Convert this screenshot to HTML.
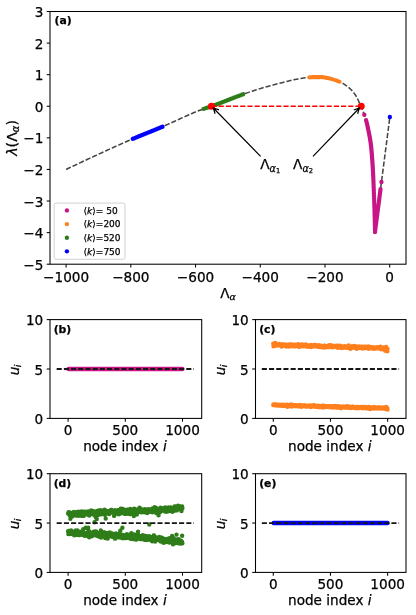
<!DOCTYPE html>
<html><head><meta charset="utf-8"><title>figure</title>
<style>html,body{margin:0;padding:0;background:#fff}svg{display:block}</style></head>
<body>
<svg width="416" height="615" viewBox="0 0 416 615" font-family="'DejaVu Sans','Liberation Sans',sans-serif"><style>text{stroke:#000;stroke-width:0.25px}</style>
<rect width="416" height="615" fill="#fff"/>
<path d="M66.1 169.44 L67.53 168.75 L68.96 168.07 L70.39 167.39 L71.82 166.71 L73.25 166.04 L74.69 165.36 L76.12 164.68 L77.55 164.01 L78.98 163.33 L80.41 162.66 L81.84 161.99 L83.27 161.32 L84.7 160.65 L86.13 159.98 L87.56 159.32 L89 158.65 L90.43 157.98 L91.86 157.32 L93.29 156.66 L94.72 156 L96.15 155.34 L97.58 154.68 L99.01 154.02 L100.44 153.36 L101.87 152.71 L103.31 152.05 L104.74 151.39 L106.17 150.73 L107.6 150.08 L109.03 149.42 L110.46 148.77 L111.89 148.11 L113.32 147.46 L114.75 146.81 L116.18 146.16 L117.62 145.51 L119.05 144.87 L120.48 144.23 L121.91 143.59 L123.34 142.95 L124.77 142.31 L126.2 141.68 L127.63 141.06 L129.06 140.43 L130.49 139.81 L131.93 139.19 L133.36 138.58 L134.79 137.98 L136.22 137.38 L137.65 136.78 L139.08 136.19 L140.51 135.61 L141.94 135.02 L143.37 134.44 L144.8 133.86 L146.24 133.29 L147.67 132.71 L149.1 132.13 L150.53 131.56 L151.96 130.98 L153.39 130.4 L154.82 129.82 L156.25 129.24 L157.68 128.65 L159.11 128.06 L160.55 127.47 L161.98 126.87 L163.41 126.27 L164.84 125.65 L166.27 125.03 L167.7 124.4 L169.13 123.76 L170.56 123.12 L171.99 122.47 L173.42 121.82 L174.86 121.17 L176.29 120.51 L177.72 119.86 L179.15 119.2 L180.58 118.55 L182.01 117.89 L183.44 117.24 L184.87 116.59 L186.3 115.95 L187.73 115.31 L189.17 114.68 L190.6 114.05 L192.03 113.43 L193.46 112.83 L194.89 112.23 L196.32 111.64 L197.75 111.06 L199.18 110.5 L200.61 109.95 L202.04 109.41 L203.48 108.9 L204.91 108.41 L206.34 107.94 L207.77 107.48 L209.2 107.01 L210.63 106.53 L212.06 106.03 L213.49 105.51 L214.92 104.99 L216.35 104.46 L217.79 103.92 L219.22 103.38 L220.65 102.83 L222.08 102.28 L223.51 101.72 L224.94 101.16 L226.37 100.6 L227.8 100.04 L229.23 99.48 L230.66 98.92 L232.1 98.36 L233.53 97.81 L234.96 97.26 L236.39 96.72 L237.82 96.18 L239.25 95.65 L240.68 95.13 L242.11 94.61 L243.54 94.11 L244.97 93.61 L246.41 93.11 L247.84 92.61 L249.27 92.12 L250.7 91.64 L252.13 91.16 L253.56 90.68 L254.99 90.22 L256.42 89.76 L257.85 89.31 L259.28 88.87 L260.72 88.44 L262.15 88.01 L263.58 87.6 L265.01 87.19 L266.44 86.79 L267.87 86.39 L269.3 86 L270.73 85.61 L272.16 85.23 L273.59 84.85 L275.03 84.48 L276.46 84.11 L277.89 83.74 L279.32 83.38 L280.75 83.01 L282.18 82.64 L283.61 82.28 L285.04 81.91 L286.47 81.54 L287.9 81.18 L289.34 80.83 L290.77 80.49 L292.2 80.17 L293.63 79.86 L295.06 79.57 L296.49 79.29 L297.92 79.02 L299.35 78.74 L300.78 78.46 L302.21 78.2 L303.65 77.96 L305.08 77.75 L306.51 77.58 L307.94 77.45 L309.37 77.36 L310.8 77.29 L312.23 77.23 L313.66 77.17 L315.09 77.13 L316.52 77.09 L317.96 77.06 L319.39 77.05 L320.82 77.06 L322.25 77.16 L323.68 77.33 L325.11 77.56 L326.54 77.83 L327.97 78.1 L329.4 78.39 L330.83 78.73 L332.27 79.12 L333.7 79.56 L335.13 80.05 L336.56 80.57 L337.99 81.13 L339.42 81.73 L340.85 82.37 L342.28 83.09 L343.71 83.91 L345.14 84.82 L346.58 85.83 L348.01 86.92 L349.44 88.1 L350.87 89.44 L350.87 89.44 L351.03 89.6 L351.19 89.77 L351.35 89.94 L351.52 90.11 L351.68 90.28 L351.84 90.46 L352 90.64 L352.16 90.82 L352.32 91.01 L352.49 91.19 L352.65 91.38 L352.81 91.58 L352.97 91.77 L353.13 91.97 L353.29 92.17 L353.46 92.38 L353.62 92.58 L353.78 92.79 L353.94 93 L354.1 93.22 L354.27 93.44 L354.43 93.66 L354.59 93.88 L354.75 94.11 L354.91 94.34 L355.07 94.57 L355.24 94.8 L355.4 95.04 L355.56 95.28 L355.72 95.52 L355.88 95.77 L356.05 96.03 L356.21 96.3 L356.37 96.57 L356.53 96.85 L356.69 97.15 L356.85 97.44 L357.02 97.75 L357.18 98.06 L357.34 98.38 L357.5 98.7 L357.66 99.03 L357.83 99.36 L357.99 99.7 L358.15 100.04 L358.31 100.39 L358.47 100.74 L358.63 101.1 L358.8 101.46 L358.96 101.82 L359.12 102.18 L359.28 102.55 L359.44 102.92 L359.61 103.29 L359.77 103.66 L359.93 104.03 L360.09 104.4 L360.25 104.78 L360.41 105.15 L360.58 105.52 L360.74 105.89 L360.9 106.26 L361.06 106.63 L361.22 107.01 L361.38 107.39 L361.55 107.77 L361.71 108.15 L361.87 108.54 L362.03 108.93 L362.19 109.32 L362.36 109.72 L362.52 110.12 L362.68 110.53 L362.84 110.93 L363 111.35 L363.16 111.76 L363.33 112.18 L363.49 112.61 L363.65 113.04 L363.81 113.47 L363.97 113.9 L364.14 114.35 L364.3 114.79 L364.46 115.24 L364.62 115.69 L364.78 116.14 L364.94 116.6 L365.11 117.07 L365.27 117.55 L365.43 118.04 L365.59 118.54 L365.75 119.06 L365.92 119.6 L366.08 120.16 L366.24 120.74 L366.4 121.35 L366.56 121.97 L366.72 122.61 L366.89 123.27 L367.05 123.95 L367.21 124.65 L367.37 125.37 L367.53 126.1 L367.7 126.84 L367.86 127.6 L368.02 128.37 L368.18 129.16 L368.34 129.95 L368.5 130.75 L368.67 131.55 L368.83 132.34 L368.99 133.14 L369.15 133.95 L369.31 134.78 L369.47 135.63 L369.64 136.51 L369.8 137.42 L369.96 138.37 L370.12 139.35 L370.28 140.39 L370.45 141.48 L370.61 142.63 L370.77 143.84 L370.93 145.12 L371.09 146.49 L371.25 147.98 L371.42 149.59 L371.58 151.32 L371.74 153.17 L371.9 155.14 L372.06 157.23 L372.23 159.43 L372.39 161.76 L372.55 164.2 L372.71 166.76 L372.87 169.44 L373.03 172.35 L373.2 175.61 L373.36 179.19 L373.52 183.06 L373.68 187.21 L373.84 191.6 L374.01 196.21 L374.17 201.02 L374.33 206.26 L374.49 212.07 L374.65 218.36 L374.81 225.03 L374.98 231.98 L374.98 231.98 L375.36 229.03 L375.74 226.08 L376.12 223.14 L376.5 220.19 L376.88 217.24 L377.27 214.29 L377.65 211.34 L378.03 208.4 L378.41 205.45 L378.79 202.5 L379.17 199.55 L379.56 196.6 L379.94 193.65 L380.32 190.71 L380.7 187.76 L381.08 184.81 L381.46 181.86 L381.85 178.91 L382.23 175.97 L382.61 173.02 L382.99 170.07 L383.37 167.12 L383.75 164.17 L384.14 161.22 L384.52 158.28 L384.9 155.33 L385.28 152.38 L385.66 149.43 L386.04 146.48 L386.43 143.54 L386.81 140.59 L387.19 137.64 L387.57 134.69 L387.95 131.74 L388.34 128.79 L388.72 125.85 L389.1 122.9 L389.48 119.95 L389.86 117" fill="none" stroke="#454545" stroke-width="1.55" stroke-dasharray="5.2 2.0"/>
<path d="M132.76 138.84h0M133.52 138.51h0M134.29 138.19h0M135.05 137.87h0M135.82 137.55h0M136.58 137.23h0M137.34 136.91h0M138.11 136.59h0M138.87 136.28h0M139.63 135.97h0M140.4 135.65h0M141.16 135.34h0M141.92 135.03h0M142.69 134.72h0M143.45 134.41h0M144.21 134.1h0M144.98 133.79h0M145.74 133.49h0M146.5 133.18h0M147.27 132.87h0M148.03 132.56h0M148.79 132.26h0M149.56 131.95h0M150.32 131.64h0M151.08 131.34h0M151.85 131.03h0M152.61 130.72h0M153.37 130.41h0M154.14 130.1h0M154.9 129.79h0M155.66 129.48h0M156.43 129.17h0M157.19 128.86h0M157.95 128.54h0M158.72 128.23h0M159.48 127.91h0M160.24 127.6h0M161.01 127.28h0M161.77 126.96h0M162.53 126.64h0" stroke="#0000ff" stroke-width="4.35" stroke-linecap="round" fill="none"/>
<path d="M203.63 108.84h0M204.44 108.57h0M205.24 108.3h0M206.05 108.03h0M206.85 107.77h0M207.66 107.51h0M208.46 107.25h0M209.27 106.99h0M210.08 106.72h0M210.88 106.44h0M211.69 106.16h0M212.49 105.87h0M213.3 105.58h0M214.1 105.29h0M214.91 105h0M215.72 104.7h0M216.52 104.4h0M217.33 104.09h0M218.13 103.79h0M218.94 103.48h0M219.74 103.18h0M220.55 102.87h0M221.36 102.56h0M222.16 102.24h0M222.97 101.93h0M223.77 101.62h0M224.58 101.3h0M225.38 100.99h0M226.19 100.67h0M227 100.36h0M227.8 100.04h0M228.61 99.72h0M229.41 99.41h0M230.22 99.09h0M231.02 98.78h0M231.83 98.47h0M232.64 98.16h0M233.44 97.84h0M234.25 97.53h0M235.05 97.23h0M235.86 96.92h0M236.66 96.61h0M237.47 96.31h0M238.28 96.01h0M239.08 95.71h0M239.89 95.42h0M240.69 95.12h0M241.5 94.83h0M242.3 94.54h0M243.11 94.26h0" stroke="#2e7d19" stroke-width="4.35" stroke-linecap="round" fill="none"/>
<path d="M309.45 77.36h0M310.22 77.32h0M310.99 77.29h0M311.76 77.25h0M312.53 77.22h0M313.31 77.19h0M314.08 77.16h0M314.85 77.13h0M315.62 77.11h0M316.39 77.09h0M317.16 77.07h0M317.94 77.06h0M318.71 77.05h0M319.48 77.05h0M320.25 77.04h0M321.02 77.07h0M321.79 77.11h0M322.57 77.19h0M323.34 77.28h0M324.11 77.4h0M324.88 77.52h0M325.65 77.66h0M326.42 77.81h0M327.2 77.95h0M327.97 78.1h0M328.74 78.25h0M329.51 78.42h0M330.28 78.59h0M331.05 78.79h0M331.83 79h0M332.6 79.22h0M333.37 79.46h0M334.14 79.71h0M334.91 79.97h0M335.68 80.24h0M336.46 80.53h0M337.23 80.83h0M338 81.14h0M338.77 81.46h0M339.54 81.78h0" stroke="#ff7f1c" stroke-width="4.15" stroke-linecap="round" fill="none"/>
<path d="M366.08 120.16h0M366.13 120.36h0M366.19 120.56h0M366.25 120.77h0M366.3 120.97h0M366.36 121.18h0M366.41 121.39h0M366.47 121.61h0M366.52 121.82h0M366.58 122.04h0M366.64 122.26h0M366.69 122.49h0M366.75 122.71h0M366.8 122.94h0M366.86 123.17h0M366.92 123.4h0M366.97 123.64h0M367.03 123.87h0M367.08 124.11h0M367.14 124.35h0M367.2 124.59h0M367.25 124.84h0M367.31 125.09h0M367.36 125.33h0M367.42 125.59h0M367.48 125.84h0M367.53 126.09h0M367.59 126.35h0M367.64 126.61h0M367.7 126.86h0M367.76 127.13h0M367.81 127.39h0M367.87 127.65h0M367.92 127.92h0M367.98 128.19h0M368.04 128.46h0M368.09 128.73h0M368.15 129h0M368.2 129.27h0M368.26 129.55h0M368.32 129.82h0M368.37 130.1h0M368.43 130.38h0M368.48 130.65h0M368.54 130.93h0M368.6 131.2h0M368.65 131.48h0M368.71 131.75h0M368.76 132.02h0M368.82 132.3h0M368.88 132.58h0M368.93 132.85h0M368.99 133.13h0M369.04 133.41h0M369.1 133.69h0M369.16 133.97h0M369.21 134.26h0M369.27 134.55h0M369.32 134.84h0M369.38 135.13h0M369.44 135.42h0M369.49 135.72h0M369.55 136.02h0M369.6 136.33h0M369.66 136.63h0M369.72 136.95h0M369.77 137.26h0M369.83 137.58h0M369.88 137.91h0M369.94 138.24h0M369.99 138.57h0M370.05 138.91h0M370.11 139.26h0M370.16 139.61h0M370.22 139.97h0M370.27 140.33h0M370.33 140.7h0M370.39 141.08h0M370.44 141.46h0M370.5 141.85h0M370.55 142.25h0M370.61 142.65h0M370.67 143.06h0M370.72 143.48h0M370.78 143.91h0M370.83 144.34h0M370.89 144.79h0M370.95 145.24h0M371 145.71h0M371.06 146.19h0M371.11 146.68h0M371.17 147.19h0M371.23 147.71h0M371.28 148.25h0M371.34 148.8h0M371.39 149.36h0M371.45 149.94h0M371.51 150.54h0M371.56 151.14h0M371.62 151.77h0M371.67 152.4h0M371.73 153.05h0M371.79 153.72h0M371.84 154.4h0M371.9 155.09h0M371.95 155.8h0M372.01 156.52h0M372.07 157.26h0M372.12 158.01h0M372.18 158.77h0M372.23 159.55h0M372.29 160.34h0M372.35 161.15h0M372.4 161.97h0M372.46 162.8h0M372.51 163.65h0M372.57 164.51h0M372.63 165.39h0M372.68 166.28h0M372.74 167.19h0M372.79 168.11h0M372.85 169.04h0M372.91 170h0M372.96 170.99h0M373.02 172.03h0M373.07 173.1h0M373.13 174.22h0M373.19 175.38h0M373.24 176.57h0M373.3 177.8h0M373.35 179.07h0M373.41 180.38h0M373.47 181.72h0M373.52 183.09h0M373.58 184.49h0M373.63 185.93h0M373.69 187.4h0M373.74 188.89h0M373.8 190.42h0M373.86 191.97h0M373.91 193.54h0M373.97 195.15h0M374.02 196.78h0M374.08 198.43h0M374.14 200.1h0M374.19 201.8h0M374.25 203.58h0M374.3 205.43h0M374.36 207.35h0M374.42 209.33h0M374.47 211.38h0M374.53 213.49h0M374.58 215.66h0M374.64 217.87h0M374.7 220.13h0M374.75 222.43h0M374.81 224.77h0M374.86 227.15h0M374.92 229.55h0M374.98 231.98h0M374.98 231.98h0M375.12 230.88h0M375.26 229.79h0M375.4 228.69h0M375.54 227.6h0M375.69 226.5h0M375.83 225.41h0M375.97 224.31h0M376.11 223.21h0M376.25 222.12h0M376.4 221.02h0M376.54 219.93h0M376.68 218.83h0M376.82 217.73h0M376.96 216.64h0M377.1 215.54h0M377.25 214.45h0M377.39 213.35h0M377.53 212.25h0M377.67 211.16h0M377.81 210.06h0M377.96 208.97h0M378.1 207.87h0M378.24 206.77h0M378.38 205.68h0M378.52 204.58h0M378.67 203.49h0M378.81 202.39h0M378.95 201.29h0M379.09 200.2h0M379.23 199.1h0M379.37 198.01h0M379.52 196.91h0M379.66 195.81h0M379.8 194.72h0M379.94 193.62h0M380.08 192.53h0M380.23 191.43h0M380.37 190.33h0M380.51 189.24h0" stroke="#c71585" stroke-width="4.35" stroke-linecap="round" fill="none"/>
<path d="M364.3 114.79h0M381.45 181.99h0" stroke="#c71585" stroke-width="4.35" stroke-linecap="round" fill="none"/>
<path d="M389.86 117h0" stroke="#0000ff" stroke-width="4.35" stroke-linecap="round" fill="none"/>
<path d="M211.4 106.26H360.9" stroke="#f00" stroke-width="1.6" stroke-dasharray="5.2 2.0" fill="none"/>
<path d="M211.4 106.26h0M361.22 106.26h0" stroke="#f00" stroke-width="7" stroke-linecap="round" fill="none"/>
<path d="M260.6 156.3L213.3 108M218.99 109.91L213.3 108L215.09 113.73" stroke="#000" stroke-width="1.2" fill="none" stroke-linejoin="miter"/>
<path d="M313 156.3L359.4 108M357.66 113.74L359.4 108L353.73 109.97" stroke="#000" stroke-width="1.2" fill="none" stroke-linejoin="miter"/>
<text x="260.2" y="169.2" font-size="13.7">Λ<tspan font-size="9.59" font-style="oblique" dy="2.47">α</tspan><tspan font-size="6.71" dy="1.23">1</tspan></text>
<text x="293" y="169.2" font-size="13.7">Λ<tspan font-size="9.59" font-style="oblique" dy="2.47">α</tspan><tspan font-size="6.71" dy="1.23">2</tspan></text>
<rect x="50" y="11.5" width="356" height="252.7" fill="none" stroke="#000" stroke-width="1.05"/>
<path d="M50 264.2h-3.3" stroke="#000" stroke-width="1.05"/>
<text x="43.4" y="269.8" font-size="13.6" text-anchor="end">−5</text>
<path d="M50 232.61h-3.3" stroke="#000" stroke-width="1.05"/>
<text x="43.4" y="238.21" font-size="13.6" text-anchor="end">−4</text>
<path d="M50 201.02h-3.3" stroke="#000" stroke-width="1.05"/>
<text x="43.4" y="206.62" font-size="13.6" text-anchor="end">−3</text>
<path d="M50 169.44h-3.3" stroke="#000" stroke-width="1.05"/>
<text x="43.4" y="175.04" font-size="13.6" text-anchor="end">−2</text>
<path d="M50 137.85h-3.3" stroke="#000" stroke-width="1.05"/>
<text x="43.4" y="143.45" font-size="13.6" text-anchor="end">−1</text>
<path d="M50 106.26h-3.3" stroke="#000" stroke-width="1.05"/>
<text x="43.4" y="111.86" font-size="13.6" text-anchor="end">0</text>
<path d="M50 74.67h-3.3" stroke="#000" stroke-width="1.05"/>
<text x="43.4" y="80.27" font-size="13.6" text-anchor="end">1</text>
<path d="M50 43.09h-3.3" stroke="#000" stroke-width="1.05"/>
<text x="43.4" y="48.69" font-size="13.6" text-anchor="end">2</text>
<path d="M50 11.5h-3.3" stroke="#000" stroke-width="1.05"/>
<text x="43.4" y="17.1" font-size="13.6" text-anchor="end">3</text>
<path d="M66.1 264.2v3.3" stroke="#000" stroke-width="1.05"/>
<text x="66.1" y="281.5" font-size="13.6" text-anchor="middle">−1000</text>
<path d="M130.82 264.2v3.3" stroke="#000" stroke-width="1.05"/>
<text x="130.82" y="281.5" font-size="13.6" text-anchor="middle">−800</text>
<path d="M195.54 264.2v3.3" stroke="#000" stroke-width="1.05"/>
<text x="195.54" y="281.5" font-size="13.6" text-anchor="middle">−600</text>
<path d="M260.26 264.2v3.3" stroke="#000" stroke-width="1.05"/>
<text x="260.26" y="281.5" font-size="13.6" text-anchor="middle">−400</text>
<path d="M324.98 264.2v3.3" stroke="#000" stroke-width="1.05"/>
<text x="324.98" y="281.5" font-size="13.6" text-anchor="middle">−200</text>
<path d="M389.7 264.2v3.3" stroke="#000" stroke-width="1.05"/>
<text x="389.7" y="281.5" font-size="13.6" text-anchor="middle">0</text>
<text x="220.2" y="298" font-size="13.6">Λ<tspan font-size="9.52" font-style="oblique" dy="2.18">α</tspan></text>
<text transform="translate(17.1,155.8) rotate(-90)" font-size="14.2"><tspan font-style="oblique">λ</tspan>(Λ<tspan font-size="9.94" font-style="oblique" dy="2.27">α</tspan><tspan dy="-2.27">)</tspan></text>
<text x="54.5" y="24.4" font-size="10.8" font-weight="bold">(a)</text>
<rect x="54.2" y="203.1" width="70.8" height="56.2" rx="2" ry="2" fill="#fff" fill-opacity="0.8" stroke="#ccc" stroke-width="0.9"/>
<path d="M66.9 210.4h0" stroke="#c71585" stroke-width="4.35" stroke-linecap="round" fill="none"/>
<text x="83.6" y="213.6" font-size="9.0">⟨<tspan font-style="oblique">k</tspan>⟩= 50</text>
<path d="M66.9 224.05h0" stroke="#ff7f1c" stroke-width="4.35" stroke-linecap="round" fill="none"/>
<text x="83.6" y="227.25" font-size="9.0">⟨<tspan font-style="oblique">k</tspan>⟩=200</text>
<path d="M66.9 237.7h0" stroke="#2e7d19" stroke-width="4.35" stroke-linecap="round" fill="none"/>
<text x="83.6" y="240.9" font-size="9.0">⟨<tspan font-style="oblique">k</tspan>⟩=520</text>
<path d="M66.9 251.35h0" stroke="#0000ff" stroke-width="4.35" stroke-linecap="round" fill="none"/>
<text x="83.6" y="254.55" font-size="9.0">⟨<tspan font-style="oblique">k</tspan>⟩=750</text>
<path d="M68.5 369H182.39" stroke="#c71585" stroke-width="4.4" stroke-linecap="round" fill="none"/>
<path d="M56.66 369H193.94" stroke="#161616" stroke-width="1.85" stroke-dasharray="5.1 2.1" fill="none"/>
<rect x="50" y="319.6" width="151.7" height="98.8" fill="none" stroke="#000" stroke-width="1.05"/>
<path d="M50 418.4h-3.3" stroke="#000" stroke-width="1.05"/>
<text x="43.2" y="424" font-size="13.6" text-anchor="end">0</text>
<path d="M50 369h-3.3" stroke="#000" stroke-width="1.05"/>
<text x="43.2" y="374.6" font-size="13.6" text-anchor="end">5</text>
<path d="M50 319.6h-3.3" stroke="#000" stroke-width="1.05"/>
<text x="43.2" y="325.2" font-size="13.6" text-anchor="end">10</text>
<path d="M68.1 418.4v3.3" stroke="#000" stroke-width="1.05"/>
<text x="68.1" y="435.4" font-size="13.6" text-anchor="middle">0</text>
<path d="M125.3 418.4v3.3" stroke="#000" stroke-width="1.05"/>
<text x="125.3" y="435.4" font-size="13.6" text-anchor="middle">500</text>
<path d="M182.5 418.4v3.3" stroke="#000" stroke-width="1.05"/>
<text x="182.5" y="435.4" font-size="13.6" text-anchor="middle">1000</text>
<text x="124.95" y="451.1" font-size="13.6" text-anchor="middle">node index <tspan font-style="oblique">i</tspan></text>
<text transform="translate(19.4,375.2) rotate(-90)" font-size="13.6"><tspan font-style="oblique">u</tspan><tspan font-size="9.52" font-style="oblique" dx="-0.6" dy="1.84">i</tspan></text>
<text x="53.7" y="332.6" font-size="10.8" font-weight="bold">(b)</text>
<path d="M273.25 343.68h0M273.48 346.19h0M273.71 344.58h0M273.94 345.12h0M274.17 345.07h0M274.4 344.95h0M274.62 345.93h0M274.85 344.97h0M275.08 345.32h0M275.31 343.05h0M275.54 344.74h0M275.77 345.06h0M276 345.03h0M276.23 345.25h0M276.46 345.46h0M276.69 345.11h0M276.91 344.64h0M277.14 345.04h0M277.37 344.4h0M277.6 345.03h0M277.83 344.92h0M278.06 344.1h0M278.29 344.65h0M278.52 345.23h0M278.75 345.06h0M278.98 344.67h0M279.2 343.92h0M279.43 345.13h0M279.66 345.12h0M279.89 344.45h0M280.12 345.48h0M280.35 345.17h0M280.58 344.54h0M280.81 344.71h0M281.04 344.98h0M281.27 344.67h0M281.5 346.58h0M281.72 344.5h0M281.95 345.58h0M282.18 345.97h0M282.41 344.92h0M282.64 344.7h0M282.87 345.33h0M283.1 345.68h0M283.33 345.08h0M283.56 345.13h0M283.79 344.35h0M284.01 344.71h0M284.24 345.02h0M284.47 344.53h0M284.7 345.25h0M284.93 345.65h0M285.16 344.84h0M285.39 344.84h0M285.62 345.28h0M285.85 345.6h0M286.08 345.06h0M286.3 346.54h0M286.53 344.82h0M286.76 344.94h0M286.99 346.1h0M287.22 345.18h0M287.45 345.75h0M287.68 344.82h0M287.91 346.34h0M288.14 345.74h0M288.37 344.87h0M288.59 344.63h0M288.82 346.44h0M289.05 345.54h0M289.28 345.1h0M289.51 345.62h0M289.74 344.43h0M289.97 345.95h0M290.2 345.11h0M290.43 345.88h0M290.66 344.56h0M290.89 345.34h0M291.11 345.54h0M291.34 346.27h0M291.57 344.43h0M291.8 344.95h0M292.03 344.95h0M292.26 344.75h0M292.49 345.19h0M292.72 345.73h0M292.95 345.82h0M293.18 345.83h0M293.4 344.66h0M293.63 346.2h0M293.86 345.74h0M294.09 345.6h0M294.32 345.31h0M294.55 345.13h0M294.78 346.12h0M295.01 346.39h0M295.24 345.46h0M295.47 344.81h0M295.69 345.06h0M295.92 345.36h0M296.15 345.66h0M296.38 345.33h0M296.61 345.63h0M296.84 345.06h0M297.07 345.95h0M297.3 345.45h0M297.53 345.59h0M297.76 345.24h0M297.99 345.42h0M298.21 344.16h0M298.44 344.74h0M298.67 344.75h0M298.9 346.68h0M299.13 345.76h0M299.36 345.91h0M299.59 345.3h0M299.82 346.84h0M300.05 344.97h0M300.28 345.03h0M300.5 346.33h0M300.73 346.16h0M300.96 346.07h0M301.19 345.62h0M301.42 345.3h0M301.65 344.54h0M301.88 345.77h0M302.11 345.25h0M302.34 345.59h0M302.57 344.72h0M302.79 345.28h0M303.02 344.95h0M303.25 346.29h0M303.48 345.81h0M303.71 346.16h0M303.94 344.9h0M304.17 345.37h0M304.4 345.9h0M304.63 345.99h0M304.86 345.49h0M305.09 346.14h0M305.31 346.27h0M305.54 345.51h0M305.77 344.44h0M306 345.92h0M306.23 346.09h0M306.46 346.43h0M306.69 346.53h0M306.92 345.53h0M307.15 345.36h0M307.38 345.82h0M307.6 345.65h0M307.83 345.78h0M308.06 345.77h0M308.29 346.68h0M308.52 346.11h0M308.75 345.81h0M308.98 346.3h0M309.21 346.14h0M309.44 346.33h0M309.67 346.08h0M309.89 345.44h0M310.12 346.13h0M310.35 346h0M310.58 345.48h0M310.81 345.58h0M311.04 345.02h0M311.27 347.08h0M311.5 345.48h0M311.73 346.22h0M311.96 345.89h0M312.18 345.52h0M312.41 345.39h0M312.64 345.42h0M312.87 345.91h0M313.1 345.12h0M313.33 346.16h0M313.56 346.09h0M313.79 345.58h0M314.02 346.33h0M314.25 344.86h0M314.48 345.49h0M314.7 344.86h0M314.93 346.07h0M315.16 346.27h0M315.39 345.98h0M315.62 345.68h0M315.85 346.4h0M316.08 345.88h0M316.31 346.1h0M316.54 345.22h0M316.77 346.47h0M316.99 345.55h0M317.22 346.47h0M317.45 346.65h0M317.68 346.52h0M317.91 346.79h0M318.14 346.07h0M318.37 345.6h0M318.6 346.08h0M318.83 345.83h0M319.06 345.29h0M319.28 346.04h0M319.51 346.09h0M319.74 346.35h0M319.97 347.08h0M320.2 345.8h0M320.43 347.17h0M320.66 345.87h0M320.89 346.24h0M321.12 345.63h0M321.35 346.28h0M321.58 346.7h0M321.8 346.07h0M322.03 346.57h0M322.26 346.37h0M322.49 346.26h0M322.72 346.36h0M322.95 346.4h0M323.18 346.76h0M323.41 346.41h0M323.64 347.48h0M323.87 346.41h0M324.09 346.98h0M324.32 345.73h0M324.55 345.65h0M324.78 347.41h0M325.01 346.28h0M325.24 346.43h0M325.47 346.94h0M325.7 346.09h0M325.93 346.64h0M326.16 347.35h0M326.38 346.55h0M326.61 346.49h0M326.84 346.36h0M327.07 347.09h0M327.3 346.09h0M327.53 346.04h0M327.76 347.06h0M327.99 346.81h0M328.22 346.5h0M328.45 346.77h0M328.68 345.52h0M328.9 346.36h0M329.13 347.03h0M329.36 346.92h0M329.59 346.53h0M329.82 345.26h0M330.05 346.61h0M330.28 346.45h0M330.51 346.25h0M330.74 346.55h0M330.97 345.3h0M331.19 346.83h0M331.42 346.15h0M331.65 346.47h0M331.88 346.23h0M332.11 347.21h0M332.34 345.62h0M332.57 346.65h0M332.8 346.58h0M333.03 347.11h0M333.26 347h0M333.48 346.31h0M333.71 346.09h0M333.94 346.22h0M334.17 345.98h0M334.4 346.25h0M334.63 346.63h0M334.86 346.2h0M335.09 346.34h0M335.32 346.72h0M335.55 346.28h0M335.77 345.99h0M336 346.56h0M336.23 346.89h0M336.46 346.31h0M336.69 345.68h0M336.92 346.83h0M337.15 346.78h0M337.38 346.81h0M337.61 346.07h0M337.84 347.74h0M338.07 346.55h0M338.29 346.11h0M338.52 347.21h0M338.75 345.96h0M338.98 346.49h0M339.21 347.09h0M339.44 346.68h0M339.67 347.64h0M339.9 347.12h0M340.13 345.82h0M340.36 347.31h0M340.58 345.83h0M340.81 346.88h0M341.04 346.3h0M341.27 346.83h0M341.5 348.08h0M341.73 347.18h0M341.96 346.77h0M342.19 347.5h0M342.42 347.62h0M342.65 346.69h0M342.87 347.25h0M343.1 347.83h0M343.33 347.28h0M343.56 346.45h0M343.79 347.18h0M344.02 346.43h0M344.25 346.11h0M344.48 346.93h0M344.71 347.57h0M344.94 347.67h0M345.17 346.98h0M345.39 346.5h0M345.62 346.84h0M345.85 346.69h0M346.08 347.24h0M346.31 346.84h0M346.54 347.27h0M346.77 347.19h0M347 347.73h0M347.23 347.88h0M347.46 347.3h0M347.68 347.65h0M347.91 347.57h0M348.14 346.69h0M348.37 347.12h0M348.6 345.49h0M348.83 346.58h0M349.06 347.43h0M349.29 346.67h0M349.52 346.91h0M349.75 347.48h0M349.97 346.51h0M350.2 347.54h0M350.43 348.79h0M350.66 346.7h0M350.89 347.48h0M351.12 346.34h0M351.35 347.51h0M351.58 347.8h0M351.81 346.33h0M352.04 347.76h0M352.27 347.07h0M352.49 346.4h0M352.72 347.13h0M352.95 347.25h0M353.18 347.15h0M353.41 346.76h0M353.64 347.66h0M353.87 346.9h0M354.1 346.92h0M354.33 345.98h0M354.56 347.43h0M354.78 347.76h0M355.01 346.87h0M355.24 347.49h0M355.47 347.12h0M355.7 347.21h0M355.93 346.66h0M356.16 347.66h0M356.39 347.36h0M356.62 348.7h0M356.85 347.8h0M357.07 346.49h0M357.3 347.71h0M357.53 347.72h0M357.76 348.01h0M357.99 347.04h0M358.22 347.27h0M358.45 348.01h0M358.68 347.01h0M358.91 347.24h0M359.14 346.98h0M359.37 347.75h0M359.59 346.46h0M359.82 347.19h0M360.05 347.48h0M360.28 347.71h0M360.51 347.56h0M360.74 346.97h0M360.97 347.59h0M361.2 346.87h0M361.43 347.14h0M361.66 346.73h0M361.88 347.03h0M362.11 347.51h0M362.34 348.52h0M362.57 347.33h0M362.8 347.07h0M363.03 347.42h0M363.26 347.21h0M363.49 347.78h0M363.72 347.74h0M363.95 348.05h0M364.17 346.8h0M364.4 347.46h0M364.63 347.82h0M364.86 348.29h0M365.09 347.65h0M365.32 346.79h0M365.55 347.33h0M365.78 347.98h0M366.01 346.82h0M366.24 346.83h0M366.46 347.08h0M366.69 347.19h0M366.92 347h0M367.15 347.34h0M367.38 347.22h0M367.61 348.07h0M367.84 346.84h0M368.07 347.53h0M368.3 346.57h0M368.53 348.78h0M368.76 347.3h0M368.98 347.15h0M369.21 347.88h0M369.44 347.46h0M369.67 347.3h0M369.9 347.4h0M370.13 348.02h0M370.36 347.81h0M370.59 347.18h0M370.82 347.05h0M371.05 347.7h0M371.27 347.72h0M371.5 347.65h0M371.73 347.21h0M371.96 348.35h0M372.19 348.51h0M372.42 347.72h0M372.65 348.4h0M372.88 348.12h0M373.11 347.77h0M373.34 347.56h0M373.56 348.41h0M373.79 347.4h0M374.02 348.8h0M374.25 347.55h0M374.48 348.71h0M374.71 348.55h0M374.94 347.52h0M375.17 348.1h0M375.4 348.31h0M375.63 348.13h0M375.86 347.64h0M376.08 347.93h0M376.31 347.93h0M376.54 347.34h0M376.77 348.31h0M377 348.19h0M377.23 348.22h0M377.46 347.31h0M377.69 347.41h0M377.92 347.26h0M378.15 347.98h0M378.37 348.06h0M378.6 347.52h0M378.83 348.2h0M379.06 347.54h0M379.29 347.61h0M379.52 348.39h0M379.75 348.06h0M379.98 348.08h0M380.21 347.09h0M380.44 346.63h0M380.66 348.1h0M380.89 348.04h0M381.12 349.29h0M381.35 347.95h0M381.58 348.07h0M381.81 348.66h0M382.04 347.66h0M382.27 348.94h0M382.5 348.21h0M382.73 348.03h0M382.96 348.79h0M383.18 347.65h0M383.41 347.55h0M383.64 348.88h0M383.87 348.9h0M384.1 347.82h0M384.33 348.17h0M384.56 348.82h0M384.79 348.33h0M385.02 350.44h0M385.25 348.28h0M385.47 349.75h0M385.7 350.16h0M385.93 350.96h0M386.16 346.95h0M386.39 348.17h0M386.62 349.63h0M386.85 348.6h0M387.08 348.91h0M387.31 351.18h0M387.54 349.05h0M273.25 405.03h0M273.48 404.43h0M273.71 405.04h0M273.94 404.87h0M274.17 404.96h0M274.4 404.43h0M274.62 405.03h0M274.85 405.21h0M275.08 404.99h0M275.31 405.29h0M275.54 405.06h0M275.77 405.14h0M276 405.03h0M276.23 404.39h0M276.46 405.31h0M276.69 405.15h0M276.91 405.25h0M277.14 404.91h0M277.37 405.65h0M277.6 405.46h0M277.83 405.21h0M278.06 404.98h0M278.29 405.22h0M278.52 405.41h0M278.75 405.56h0M278.98 405.02h0M279.2 404.66h0M279.43 405.11h0M279.66 405.17h0M279.89 405.08h0M280.12 405.63h0M280.35 405.39h0M280.58 405.38h0M280.81 405.16h0M281.04 405.3h0M281.27 405.77h0M281.5 404.85h0M281.72 404.63h0M281.95 405.41h0M282.18 405.16h0M282.41 405.22h0M282.64 405.02h0M282.87 405.92h0M283.1 404.71h0M283.33 405.53h0M283.56 404.86h0M283.79 405.33h0M284.01 405.52h0M284.24 405.43h0M284.47 405.03h0M284.7 405.73h0M284.93 405.54h0M285.16 405.59h0M285.39 406.09h0M285.62 404.9h0M285.85 405.19h0M286.08 405.44h0M286.3 404.97h0M286.53 405.82h0M286.76 405.48h0M286.99 404.77h0M287.22 405.07h0M287.45 406.35h0M287.68 406.79h0M287.91 405.89h0M288.14 405.07h0M288.37 405.68h0M288.59 405.59h0M288.82 405.27h0M289.05 405.86h0M289.28 405.43h0M289.51 405.21h0M289.74 405.35h0M289.97 405.38h0M290.2 405.78h0M290.43 405.35h0M290.66 405.73h0M290.89 405.05h0M291.11 404.56h0M291.34 405.87h0M291.57 406.44h0M291.8 405.76h0M292.03 405.45h0M292.26 405.19h0M292.49 405.18h0M292.72 405.93h0M292.95 405.94h0M293.18 405.13h0M293.4 406.07h0M293.63 405.21h0M293.86 405.74h0M294.09 405.35h0M294.32 405.38h0M294.55 405.36h0M294.78 405.35h0M295.01 406.07h0M295.24 405.57h0M295.47 405.69h0M295.69 405.58h0M295.92 405.22h0M296.15 405.82h0M296.38 406h0M296.61 406.02h0M296.84 405.86h0M297.07 405.44h0M297.3 406.07h0M297.53 405.3h0M297.76 405.65h0M297.99 405.86h0M298.21 406.3h0M298.44 405.68h0M298.67 405.51h0M298.9 406.49h0M299.13 405.33h0M299.36 405.15h0M299.59 405.68h0M299.82 405.62h0M300.05 404.87h0M300.28 405.35h0M300.5 406.19h0M300.73 405.85h0M300.96 405.91h0M301.19 405.92h0M301.42 406.8h0M301.65 405.57h0M301.88 406.13h0M302.11 405.82h0M302.34 405.94h0M302.57 405.55h0M302.79 406.02h0M303.02 406.22h0M303.25 405.71h0M303.48 405.37h0M303.71 406.06h0M303.94 405.4h0M304.17 405.84h0M304.4 406.16h0M304.63 405.35h0M304.86 406.29h0M305.09 405.57h0M305.31 406.17h0M305.54 405.8h0M305.77 406.48h0M306 406.33h0M306.23 405.58h0M306.46 405.93h0M306.69 406h0M306.92 406.2h0M307.15 405.85h0M307.38 406.59h0M307.6 406.48h0M307.83 406.11h0M308.06 406.38h0M308.29 406.34h0M308.52 406.1h0M308.75 406.13h0M308.98 406.17h0M309.21 405.43h0M309.44 405.69h0M309.67 405.61h0M309.89 406.12h0M310.12 406.31h0M310.35 406.69h0M310.58 406.26h0M310.81 406.96h0M311.04 406.37h0M311.27 405.84h0M311.5 405.51h0M311.73 405.78h0M311.96 406.51h0M312.18 405.98h0M312.41 406.49h0M312.64 405.86h0M312.87 406.24h0M313.1 405.86h0M313.33 405.19h0M313.56 405.85h0M313.79 405.3h0M314.02 406.15h0M314.25 406.36h0M314.48 405.71h0M314.7 405.56h0M314.93 406.47h0M315.16 406.23h0M315.39 406.83h0M315.62 406.35h0M315.85 405.93h0M316.08 406.32h0M316.31 406.51h0M316.54 406.85h0M316.77 406.16h0M316.99 405.99h0M317.22 406.08h0M317.45 406.22h0M317.68 406.83h0M317.91 405.64h0M318.14 406.36h0M318.37 406.41h0M318.6 406.06h0M318.83 407.22h0M319.06 406.39h0M319.28 406.43h0M319.51 406.23h0M319.74 405.85h0M319.97 406.21h0M320.2 407.12h0M320.43 406.54h0M320.66 406.33h0M320.89 406.36h0M321.12 406.93h0M321.35 407.09h0M321.58 406.22h0M321.8 406.31h0M322.03 406.46h0M322.26 407.14h0M322.49 405.76h0M322.72 407.62h0M322.95 406.62h0M323.18 405.66h0M323.41 406.55h0M323.64 406.41h0M323.87 406.97h0M324.09 405.97h0M324.32 407.03h0M324.55 406.42h0M324.78 406.48h0M325.01 406.95h0M325.24 406.19h0M325.47 407.11h0M325.7 406.83h0M325.93 406.57h0M326.16 406.73h0M326.38 406.39h0M326.61 406.22h0M326.84 406.71h0M327.07 406.81h0M327.3 406.81h0M327.53 406.75h0M327.76 406.3h0M327.99 406.71h0M328.22 406.47h0M328.45 406.67h0M328.68 406.98h0M328.9 406.31h0M329.13 407.06h0M329.36 406.66h0M329.59 406.08h0M329.82 407.11h0M330.05 406.7h0M330.28 407.31h0M330.51 406.9h0M330.74 407.29h0M330.97 406.85h0M331.19 406.93h0M331.42 406.67h0M331.65 406.1h0M331.88 406.62h0M332.11 406.48h0M332.34 406.77h0M332.57 406.85h0M332.8 407.09h0M333.03 407.48h0M333.26 406.75h0M333.48 406.13h0M333.71 406.6h0M333.94 407h0M334.17 406.15h0M334.4 406.98h0M334.63 407.06h0M334.86 407.3h0M335.09 407.2h0M335.32 406.93h0M335.55 406.05h0M335.77 406.93h0M336 407.26h0M336.23 407.1h0M336.46 406.95h0M336.69 407.55h0M336.92 406.83h0M337.15 406.61h0M337.38 406.76h0M337.61 406.66h0M337.84 407.41h0M338.07 407.58h0M338.29 406.41h0M338.52 406.49h0M338.75 407.54h0M338.98 406.85h0M339.21 406.93h0M339.44 406.73h0M339.67 406.87h0M339.9 407.16h0M340.13 406.89h0M340.36 406.91h0M340.58 407h0M340.81 407.72h0M341.04 408.18h0M341.27 407.31h0M341.5 407.65h0M341.73 406.91h0M341.96 406.74h0M342.19 406.92h0M342.42 407.18h0M342.65 407.01h0M342.87 406.58h0M343.1 407.34h0M343.33 406.69h0M343.56 406.79h0M343.79 406.97h0M344.02 406.51h0M344.25 407.37h0M344.48 406.72h0M344.71 407.47h0M344.94 407.41h0M345.17 407.53h0M345.39 406.94h0M345.62 407.5h0M345.85 407.11h0M346.08 407.59h0M346.31 406.72h0M346.54 406.43h0M346.77 407.07h0M347 406.51h0M347.23 406.95h0M347.46 406.32h0M347.68 407.14h0M347.91 407.81h0M348.14 406.61h0M348.37 407.25h0M348.6 407.62h0M348.83 407.48h0M349.06 407.87h0M349.29 407.3h0M349.52 407.66h0M349.75 406.66h0M349.97 406.99h0M350.2 407.91h0M350.43 407.86h0M350.66 407.49h0M350.89 408.04h0M351.12 407.32h0M351.35 407.3h0M351.58 407.6h0M351.81 407.52h0M352.04 407.11h0M352.27 406.75h0M352.49 406.73h0M352.72 407.31h0M352.95 407h0M353.18 407.63h0M353.41 407.18h0M353.64 407.73h0M353.87 407.07h0M354.1 407.86h0M354.33 407.75h0M354.56 407.38h0M354.78 407.17h0M355.01 407.96h0M355.24 407.61h0M355.47 407.35h0M355.7 407.32h0M355.93 407.75h0M356.16 407.39h0M356.39 407.54h0M356.62 406.88h0M356.85 407.22h0M357.07 407.97h0M357.3 408.33h0M357.53 407.42h0M357.76 407h0M357.99 407.41h0M358.22 407.14h0M358.45 407.68h0M358.68 408.04h0M358.91 407.21h0M359.14 407.47h0M359.37 407.25h0M359.59 408.07h0M359.82 407.46h0M360.05 407.78h0M360.28 407.22h0M360.51 407.78h0M360.74 407.8h0M360.97 407.79h0M361.2 407.07h0M361.43 407.56h0M361.66 407.88h0M361.88 407.99h0M362.11 408.01h0M362.34 407.02h0M362.57 408.32h0M362.8 407.95h0M363.03 407.37h0M363.26 407.16h0M363.49 407.69h0M363.72 407.33h0M363.95 407.35h0M364.17 407.26h0M364.4 407.64h0M364.63 407.01h0M364.86 407.59h0M365.09 407.07h0M365.32 408.11h0M365.55 407.31h0M365.78 408.19h0M366.01 408.29h0M366.24 407.5h0M366.46 408.03h0M366.69 407.54h0M366.92 408.14h0M367.15 407.09h0M367.38 407.73h0M367.61 408.18h0M367.84 407.67h0M368.07 407.4h0M368.3 408.06h0M368.53 407.56h0M368.76 406.96h0M368.98 407.43h0M369.21 407.78h0M369.44 408.01h0M369.67 407.56h0M369.9 408.4h0M370.13 409h0M370.36 408.07h0M370.59 408.24h0M370.82 407.13h0M371.05 407.77h0M371.27 408.22h0M371.5 408.3h0M371.73 407.65h0M371.96 408.18h0M372.19 408.09h0M372.42 407.9h0M372.65 407.84h0M372.88 407.84h0M373.11 407.84h0M373.34 407.37h0M373.56 407.22h0M373.79 408.55h0M374.02 406.89h0M374.25 407.86h0M374.48 407.43h0M374.71 408.22h0M374.94 407.8h0M375.17 407.85h0M375.4 407.9h0M375.63 407.61h0M375.86 407.71h0M376.08 408.36h0M376.31 408.02h0M376.54 407.69h0M376.77 407.71h0M377 408.12h0M377.23 408.11h0M377.46 408.06h0M377.69 408.45h0M377.92 408.52h0M378.15 407.4h0M378.37 408.18h0M378.6 408h0M378.83 408.34h0M379.06 407.54h0M379.29 407.36h0M379.52 408.15h0M379.75 407.86h0M379.98 408.37h0M380.21 407.38h0M380.44 407.72h0M380.66 408.43h0M380.89 407.61h0M381.12 407.96h0M381.35 407.95h0M381.58 407.98h0M381.81 408.39h0M382.04 408.35h0M382.27 407.89h0M382.5 408.17h0M382.73 408.53h0M382.96 407.36h0M383.18 408.25h0M383.41 408.39h0M383.64 408.46h0M383.87 407.91h0M384.1 407.81h0M384.33 408.1h0M384.56 407.86h0M384.79 408.81h0M385.02 408.37h0M385.25 408.41h0M385.47 408.23h0M385.7 408.05h0M385.93 409.05h0M386.16 407.02h0M386.39 408.6h0M386.62 408.13h0M386.85 407.95h0M387.08 407.95h0M387.31 408.19h0M387.54 409.45h0" stroke="#ff7f1c" stroke-width="4.4" stroke-linecap="round" fill="none"/>
<path d="M261.81 369H399.09" stroke="#161616" stroke-width="1.85" stroke-dasharray="5.1 2.1" fill="none"/>
<rect x="255.5" y="319.6" width="150.5" height="98.8" fill="none" stroke="#000" stroke-width="1.05"/>
<path d="M255.5 418.4h-3.3" stroke="#000" stroke-width="1.05"/>
<text x="248.7" y="424" font-size="13.6" text-anchor="end">0</text>
<path d="M255.5 369h-3.3" stroke="#000" stroke-width="1.05"/>
<text x="248.7" y="374.6" font-size="13.6" text-anchor="end">5</text>
<path d="M255.5 319.6h-3.3" stroke="#000" stroke-width="1.05"/>
<text x="248.7" y="325.2" font-size="13.6" text-anchor="end">10</text>
<path d="M273.25 418.4v3.3" stroke="#000" stroke-width="1.05"/>
<text x="273.25" y="435.4" font-size="13.6" text-anchor="middle">0</text>
<path d="M330.45 418.4v3.3" stroke="#000" stroke-width="1.05"/>
<text x="330.45" y="435.4" font-size="13.6" text-anchor="middle">500</text>
<path d="M387.65 418.4v3.3" stroke="#000" stroke-width="1.05"/>
<text x="387.65" y="435.4" font-size="13.6" text-anchor="middle">1000</text>
<text x="329.85" y="451.1" font-size="13.6" text-anchor="middle">node index <tspan font-style="oblique">i</tspan></text>
<text transform="translate(224.9,375.2) rotate(-90)" font-size="13.6"><tspan font-style="oblique">u</tspan><tspan font-size="9.52" font-style="oblique" dx="-0.6" dy="1.84">i</tspan></text>
<text x="259.2" y="332.6" font-size="10.8" font-weight="bold">(c)</text>
<path d="M68.1 513.52h0M68.33 513.14h0M68.56 512.25h0M68.79 513.77h0M69.02 514.37h0M69.25 513.3h0M69.47 514.56h0M69.7 515.32h0M69.93 512.36h0M70.16 514.23h0M70.39 518.81h0M70.62 512.94h0M70.85 515.1h0M71.08 512.93h0M71.31 513.16h0M71.54 513.83h0M71.76 513.21h0M71.99 514.62h0M72.22 516.4h0M72.45 514.02h0M72.68 514.78h0M72.91 512.58h0M73.14 513.31h0M73.37 514.28h0M73.6 515.53h0M73.83 511.94h0M74.05 512.2h0M74.28 513.14h0M74.51 513.05h0M74.74 513.92h0M74.97 513.73h0M75.2 512.83h0M75.43 513.69h0M75.66 513.17h0M75.89 514.9h0M76.12 515.58h0M76.35 515.61h0M76.57 514.04h0M76.8 513.02h0M77.03 512.02h0M77.26 514.7h0M77.49 515.38h0M77.72 512.47h0M77.95 512.87h0M78.18 515.69h0M78.41 512.12h0M78.64 513.2h0M78.86 511.77h0M79.09 512.97h0M79.32 512.29h0M79.55 512.98h0M79.78 514.54h0M80.01 513.65h0M80.24 514.19h0M80.47 513.77h0M80.7 514.56h0M80.93 515.21h0M81.15 514.6h0M81.38 515.84h0M81.61 511.51h0M81.84 512.43h0M82.07 515.14h0M82.3 514.13h0M82.53 513.93h0M82.76 513.28h0M82.99 515.9h0M83.22 513.24h0M83.44 512.88h0M83.67 515.92h0M83.9 513.06h0M84.13 511.72h0M84.36 513.13h0M84.59 511.87h0M84.82 511.91h0M85.05 512.65h0M85.28 512.67h0M85.51 513.59h0M85.74 511.6h0M85.96 513.7h0M86.19 513.97h0M86.42 512.23h0M86.65 513.98h0M86.88 512.55h0M87.11 511.77h0M87.34 512.96h0M87.57 512.92h0M87.8 511.91h0M88.03 512.1h0M88.25 514.92h0M88.48 514.63h0M88.71 511.36h0M88.94 512.51h0M89.17 515.55h0M89.4 514.63h0M89.63 512.93h0M89.86 514.16h0M90.09 512.36h0M90.32 512.83h0M90.54 512.31h0M90.77 514.35h0M91 512.13h0M91.23 510.47h0M91.46 513.86h0M91.69 511.25h0M91.92 511.65h0M92.15 512.05h0M92.38 512.92h0M92.61 514.26h0M92.84 513.9h0M93.06 511.87h0M93.29 514.55h0M93.52 511.28h0M93.75 511.6h0M93.98 511.66h0M94.21 513.3h0M94.44 514.24h0M94.67 512.49h0M94.9 513.67h0M95.13 512.62h0M95.35 516.28h0M95.58 513.34h0M95.81 517.35h0M96.04 512.5h0M96.27 513.97h0M96.5 512.87h0M96.73 519.08h0M96.96 512.48h0M97.19 510.95h0M97.42 513.99h0M97.64 515.31h0M97.87 511.44h0M98.1 513.28h0M98.33 510.82h0M98.56 512.22h0M98.79 511.9h0M99.02 512.4h0M99.25 514.14h0M99.48 513.24h0M99.71 511.91h0M99.94 513.23h0M100.16 510.15h0M100.39 514.4h0M100.62 513.02h0M100.85 511.11h0M101.08 513.22h0M101.31 513.86h0M101.54 514.13h0M101.77 513.34h0M102 510.57h0M102.23 511.91h0M102.45 511.77h0M102.68 513.04h0M102.91 511.35h0M103.14 512.25h0M103.37 513.51h0M103.6 512.92h0M103.83 512.1h0M104.06 510.9h0M104.29 512.4h0M104.52 511.71h0M104.74 509.82h0M104.97 514.74h0M105.2 513.82h0M105.43 511.07h0M105.66 511.73h0M105.89 512.38h0M106.12 511.93h0M106.35 512.65h0M106.58 512.69h0M106.81 512.64h0M107.03 511.23h0M107.26 513.65h0M107.49 513.2h0M107.72 512.04h0M107.95 512.76h0M108.18 511.31h0M108.41 512.21h0M108.64 512.82h0M108.87 511.88h0M109.1 512.78h0M109.33 514.04h0M109.55 513.51h0M109.78 513.09h0M110.01 512.67h0M110.24 511.96h0M110.47 510.94h0M110.7 511.38h0M110.93 509.85h0M111.16 510.46h0M111.39 512.26h0M111.62 509.98h0M111.84 510.55h0M112.07 512.55h0M112.3 511.6h0M112.53 510.62h0M112.76 511.67h0M112.99 510.7h0M113.22 511.46h0M113.45 512.35h0M113.68 512.32h0M113.91 511.45h0M114.13 515.9h0M114.36 511.06h0M114.59 513.97h0M114.82 511.46h0M115.05 510.32h0M115.28 511.14h0M115.51 511.88h0M115.74 512.14h0M115.97 512.87h0M116.2 512.85h0M116.43 512.72h0M116.65 511.98h0M116.88 510.6h0M117.11 512.88h0M117.34 510.54h0M117.57 513.7h0M117.8 512.72h0M118.03 511.79h0M118.26 510.31h0M118.49 512.48h0M118.72 514.36h0M118.94 511.19h0M119.17 511.73h0M119.4 513.02h0M119.63 512.96h0M119.86 512.53h0M120.09 511.54h0M120.32 510.83h0M120.55 513.46h0M120.78 508.81h0M121.01 511.67h0M121.23 513.1h0M121.46 510.77h0M121.69 511.46h0M121.92 508.7h0M122.15 510.22h0M122.38 512.02h0M122.61 512.04h0M122.84 512.16h0M123.07 511.96h0M123.3 510.83h0M123.53 512.31h0M123.75 509.52h0M123.98 511.6h0M124.21 511.67h0M124.44 510.31h0M124.67 513.91h0M124.9 512.61h0M125.13 510.71h0M125.36 511.43h0M125.59 511.45h0M125.82 510.93h0M126.04 512.15h0M126.27 511.61h0M126.5 513.07h0M126.73 513.7h0M126.96 509.81h0M127.19 512.52h0M127.42 512.24h0M127.65 509.62h0M127.88 510.03h0M128.11 511.98h0M128.33 511.97h0M128.56 511.41h0M128.79 512.48h0M129.02 510.61h0M129.25 511.1h0M129.48 511.11h0M129.71 510.33h0M129.94 514.16h0M130.17 508.97h0M130.4 509.36h0M130.62 513.33h0M130.85 510.1h0M131.08 512.58h0M131.31 512.95h0M131.54 510.3h0M131.77 512.04h0M132 511.55h0M132.23 509.83h0M132.46 511.96h0M132.69 512.24h0M132.92 510.72h0M133.14 509.6h0M133.37 510.45h0M133.6 513.01h0M133.83 516.05h0M134.06 511.26h0M134.29 508.68h0M134.52 509.95h0M134.75 509.99h0M134.98 509.55h0M135.21 511.4h0M135.43 510.42h0M135.66 511.14h0M135.89 512.2h0M136.12 511h0M136.35 510.28h0M136.58 512.29h0M136.81 514.45h0M137.04 510h0M137.27 509.66h0M137.5 511.88h0M137.72 510.78h0M137.95 509.11h0M138.18 509.91h0M138.41 511.85h0M138.64 510.59h0M138.87 509.11h0M139.1 510.94h0M139.33 510.37h0M139.56 507.66h0M139.79 510.86h0M140.02 510.94h0M140.24 512.04h0M140.47 511.6h0M140.7 508.95h0M140.93 510.94h0M141.16 512.22h0M141.39 511.9h0M141.62 510.73h0M141.85 509.79h0M142.08 511.64h0M142.31 509.83h0M142.53 511.3h0M142.76 510.25h0M142.99 510.04h0M143.22 509.92h0M143.45 511.2h0M143.68 510.86h0M143.91 510.02h0M144.14 512.23h0M144.37 510.42h0M144.6 509.99h0M144.82 509.32h0M145.05 510.65h0M145.28 510.82h0M145.51 510.41h0M145.74 511.48h0M145.97 510.82h0M146.2 510.05h0M146.43 510.2h0M146.66 511.82h0M146.89 510.93h0M147.12 513.12h0M147.34 509.52h0M147.57 511.15h0M147.8 510.58h0M148.03 511.83h0M148.26 510.57h0M148.49 509.91h0M148.72 509.23h0M148.95 512.11h0M149.18 509.39h0M149.41 510.62h0M149.63 511.36h0M149.86 509.81h0M150.09 510.75h0M150.32 510.74h0M150.55 511.23h0M150.78 510.07h0M151.01 510.29h0M151.24 510.54h0M151.47 511.49h0M151.7 510.93h0M151.92 509.8h0M152.15 508.7h0M152.38 512.27h0M152.61 508.51h0M152.84 510.26h0M153.07 511.57h0M153.3 509.44h0M153.53 511.4h0M153.76 509.7h0M153.99 508.86h0M154.22 510.55h0M154.44 510.26h0M154.67 507.1h0M154.9 509.83h0M155.13 509.79h0M155.36 509.14h0M155.59 510.21h0M155.82 510.18h0M156.05 509.59h0M156.28 512.99h0M156.51 508.29h0M156.73 511.33h0M156.96 511.33h0M157.19 509.33h0M157.42 509.94h0M157.65 511.5h0M157.88 509.69h0M158.11 511.34h0M158.34 510.78h0M158.57 515.22h0M158.8 510.91h0M159.02 509.39h0M159.25 509.71h0M159.48 509.47h0M159.71 508.7h0M159.94 509.87h0M160.17 512.02h0M160.4 510.13h0M160.63 507.74h0M160.86 509.72h0M161.09 509.35h0M161.31 509.84h0M161.54 509.41h0M161.77 509.16h0M162 509.84h0M162.23 509.85h0M162.46 510.61h0M162.69 510.67h0M162.92 509.11h0M163.15 508.68h0M163.38 508.45h0M163.61 509.5h0M163.83 510.56h0M164.06 508.76h0M164.29 508.76h0M164.52 511.35h0M164.75 509.57h0M164.98 510.56h0M165.21 507.39h0M165.44 510.82h0M165.67 510.99h0M165.9 508.42h0M166.12 511.85h0M166.35 510.25h0M166.58 510.68h0M166.81 510.56h0M167.04 511.65h0M167.27 509.57h0M167.5 508.06h0M167.73 509.54h0M167.96 508.67h0M168.19 509.64h0M168.41 507.4h0M168.64 508.51h0M168.87 507.85h0M169.1 511.03h0M169.33 508.67h0M169.56 510.48h0M169.79 508.63h0M170.02 508.79h0M170.25 510.4h0M170.48 508.77h0M170.71 507.54h0M170.93 508.33h0M171.16 508.2h0M171.39 509.96h0M171.62 509.71h0M171.85 510.22h0M172.08 508.67h0M172.31 511.68h0M172.54 508.25h0M172.77 508.77h0M173 510.12h0M173.22 508.17h0M173.45 508.98h0M173.68 511.01h0M173.91 510.77h0M174.14 509.04h0M174.37 509.69h0M174.6 506.54h0M174.83 508.5h0M175.06 509.79h0M175.29 509.09h0M175.51 506.51h0M175.74 509.6h0M175.97 507.47h0M176.2 507.85h0M176.43 506.56h0M176.66 507.68h0M176.89 510.42h0M177.12 507.63h0M177.35 508.17h0M177.58 507.02h0M177.81 508.27h0M178.03 505.73h0M178.26 508.26h0M178.49 507.56h0M178.72 508.88h0M178.95 507.89h0M179.18 507.98h0M179.41 507.77h0M179.64 506.84h0M179.87 508.58h0M180.1 508.93h0M180.32 506.49h0M180.55 509.22h0M180.78 508.61h0M181.01 506.34h0M181.24 506.77h0M181.47 510.94h0M181.7 508.12h0M181.93 506.66h0M182.16 506.56h0M182.39 508.18h0M68.1 531.18h0M68.33 534.08h0M68.56 533.4h0M68.79 530.98h0M69.02 531.85h0M69.25 532.15h0M69.47 531.9h0M69.7 533.21h0M69.93 531.45h0M70.16 534.02h0M70.39 533.45h0M70.62 531.08h0M70.85 533.08h0M71.08 530.37h0M71.31 533.75h0M71.54 533.56h0M71.76 533.37h0M71.99 533.04h0M72.22 533.67h0M72.45 533.25h0M72.68 532.45h0M72.91 531.81h0M73.14 533.16h0M73.37 532.51h0M73.6 532.2h0M73.83 534.65h0M74.05 535.26h0M74.28 531.36h0M74.51 531.73h0M74.74 533.29h0M74.97 532.94h0M75.2 534.54h0M75.43 535.09h0M75.66 533.02h0M75.89 530.49h0M76.12 532.31h0M76.35 534.27h0M76.57 533.09h0M76.8 531.08h0M77.03 531.15h0M77.26 530.4h0M77.49 532.18h0M77.72 534.77h0M77.95 534.23h0M78.18 533.07h0M78.41 531.83h0M78.64 534.25h0M78.86 532.89h0M79.09 533.45h0M79.32 535.13h0M79.55 533.76h0M79.78 531.65h0M80.01 533.73h0M80.24 533.01h0M80.47 532.62h0M80.7 534.56h0M80.93 532.15h0M81.15 531.83h0M81.38 531.72h0M81.61 532.08h0M81.84 534.28h0M82.07 534.44h0M82.3 534.7h0M82.53 534.86h0M82.76 534.73h0M82.99 532.55h0M83.22 529.25h0M83.44 534.58h0M83.67 532.81h0M83.9 535.37h0M84.13 534.23h0M84.36 535.07h0M84.59 535.86h0M84.82 533.8h0M85.05 533.78h0M85.28 534.39h0M85.51 534.55h0M85.74 535.13h0M85.96 534.09h0M86.19 534.68h0M86.42 533.66h0M86.65 535.45h0M86.88 533.7h0M87.11 533.36h0M87.34 532.48h0M87.57 532.72h0M87.8 533.8h0M88.03 528.43h0M88.25 536.31h0M88.48 534.08h0M88.71 532.34h0M88.94 532.05h0M89.17 537.24h0M89.4 531.35h0M89.63 534.56h0M89.86 535.43h0M90.09 532.8h0M90.32 534.12h0M90.54 534.82h0M90.77 534.24h0M91 536.17h0M91.23 535.42h0M91.46 535.34h0M91.69 533.14h0M91.92 536.26h0M92.15 534.53h0M92.38 533.32h0M92.61 534.36h0M92.84 533.31h0M93.06 535.13h0M93.29 533.8h0M93.52 533.23h0M93.75 531.61h0M93.98 533.48h0M94.21 532.62h0M94.44 534.38h0M94.67 534.29h0M94.9 532.49h0M95.13 533.71h0M95.35 531.34h0M95.58 533.58h0M95.81 531.85h0M96.04 531.54h0M96.27 535.53h0M96.5 532.21h0M96.73 533.98h0M96.96 533.94h0M97.19 534.68h0M97.42 533.67h0M97.64 535.94h0M97.87 535.48h0M98.1 535.53h0M98.33 534.25h0M98.56 533.48h0M98.79 533.72h0M99.02 534.19h0M99.25 535.38h0M99.48 536.84h0M99.71 534.18h0M99.94 534.51h0M100.16 534.26h0M100.39 532.96h0M100.62 534.96h0M100.85 534.99h0M101.08 537.62h0M101.31 534.08h0M101.54 534.85h0M101.77 535.71h0M102 534.34h0M102.23 534.63h0M102.45 534.35h0M102.68 532.43h0M102.91 533.94h0M103.14 533.74h0M103.37 533.98h0M103.6 534.12h0M103.83 534.69h0M104.06 532.12h0M104.29 535.05h0M104.52 534.07h0M104.74 535.26h0M104.97 535.44h0M105.2 538.03h0M105.43 537.41h0M105.66 533.14h0M105.89 533.23h0M106.12 535.62h0M106.35 535.13h0M106.58 534.35h0M106.81 536.35h0M107.03 532.96h0M107.26 536.44h0M107.49 536.06h0M107.72 538.6h0M107.95 533.33h0M108.18 535.15h0M108.41 533.23h0M108.64 533.13h0M108.87 534.85h0M109.1 533.43h0M109.33 535.05h0M109.55 532.75h0M109.78 532.53h0M110.01 533.64h0M110.24 535.85h0M110.47 533.38h0M110.7 533.73h0M110.93 534.71h0M111.16 534.71h0M111.39 534.84h0M111.62 536.56h0M111.84 535.16h0M112.07 533.5h0M112.3 536.72h0M112.53 535.41h0M112.76 534.49h0M112.99 535.46h0M113.22 535.73h0M113.45 537h0M113.68 536.34h0M113.91 537.34h0M114.13 536.73h0M114.36 536.24h0M114.59 536h0M114.82 535.92h0M115.05 538.66h0M115.28 533.74h0M115.51 536.06h0M115.74 537.09h0M115.97 533.45h0M116.2 535.39h0M116.43 537.02h0M116.65 536.31h0M116.88 536.4h0M117.11 535.17h0M117.34 536.78h0M117.57 535.31h0M117.8 535.45h0M118.03 536.08h0M118.26 534.39h0M118.49 535.91h0M118.72 537.4h0M118.94 535.6h0M119.17 535.83h0M119.4 536.05h0M119.63 535.73h0M119.86 533.13h0M120.09 535.76h0M120.32 530.65h0M120.55 536.38h0M120.78 534.48h0M121.01 536.18h0M121.23 537.12h0M121.46 537.65h0M121.69 535.51h0M121.92 535.26h0M122.15 538.15h0M122.38 537.1h0M122.61 535.44h0M122.84 534.98h0M123.07 537.85h0M123.3 536.78h0M123.53 535.27h0M123.75 536.97h0M123.98 536.89h0M124.21 537.01h0M124.44 537.98h0M124.67 536.32h0M124.9 536.02h0M125.13 538.15h0M125.36 536.31h0M125.59 535.08h0M125.82 536.21h0M126.04 535.32h0M126.27 536.83h0M126.5 534.83h0M126.73 537.51h0M126.96 534.23h0M127.19 537.12h0M127.42 537.47h0M127.65 537.71h0M127.88 537.13h0M128.11 537.25h0M128.33 537.51h0M128.56 537.08h0M128.79 535.87h0M129.02 535.62h0M129.25 537.14h0M129.48 535.22h0M129.71 538h0M129.94 538.05h0M130.17 538.2h0M130.4 536.08h0M130.62 538.75h0M130.85 538.58h0M131.08 535.29h0M131.31 533.11h0M131.54 535.25h0M131.77 538.77h0M132 536.93h0M132.23 534.05h0M132.46 536.86h0M132.69 539h0M132.92 537.44h0M133.14 539.13h0M133.37 538.58h0M133.6 534.42h0M133.83 536.26h0M134.06 538.92h0M134.29 538.98h0M134.52 536.59h0M134.75 534.59h0M134.98 536.41h0M135.21 538.01h0M135.43 537.47h0M135.66 536.95h0M135.89 538.54h0M136.12 539.65h0M136.35 538.77h0M136.58 534.42h0M136.81 537.59h0M137.04 537.43h0M137.27 537.46h0M137.5 536.76h0M137.72 538.52h0M137.95 535.71h0M138.18 534.99h0M138.41 537.02h0M138.64 537.26h0M138.87 535.97h0M139.1 536.73h0M139.33 537.32h0M139.56 537.78h0M139.79 538.5h0M140.02 539.05h0M140.24 536.81h0M140.47 536.18h0M140.7 538.97h0M140.93 537.78h0M141.16 537.44h0M141.39 538.25h0M141.62 538.69h0M141.85 538.25h0M142.08 539.16h0M142.31 537.88h0M142.53 538.19h0M142.76 535.24h0M142.99 536.71h0M143.22 538.31h0M143.45 537.92h0M143.68 535.81h0M143.91 535.97h0M144.14 537.74h0M144.37 538.15h0M144.6 539.79h0M144.82 538.43h0M145.05 538.26h0M145.28 538.98h0M145.51 535.95h0M145.74 536.75h0M145.97 538.3h0M146.2 537.65h0M146.43 537.28h0M146.66 536.11h0M146.89 539.94h0M147.12 539.15h0M147.34 538.13h0M147.57 538.11h0M147.8 538.77h0M148.03 539.26h0M148.26 537.01h0M148.49 539.65h0M148.72 539.09h0M148.95 536.62h0M149.18 536.28h0M149.41 537.36h0M149.63 539.52h0M149.86 539.53h0M150.09 539.61h0M150.32 539.92h0M150.55 539.06h0M150.78 537h0M151.01 538.31h0M151.24 539.54h0M151.47 539.59h0M151.7 540.1h0M151.92 537.01h0M152.15 541.19h0M152.38 538.38h0M152.61 538.24h0M152.84 540.07h0M153.07 540.63h0M153.3 537.62h0M153.53 538.94h0M153.76 535.47h0M153.99 535.46h0M154.22 540.26h0M154.44 538.2h0M154.67 538.26h0M154.9 539.32h0M155.13 541.49h0M155.36 537.24h0M155.59 538.34h0M155.82 538.58h0M156.05 539.83h0M156.28 538.33h0M156.51 539.83h0M156.73 539.11h0M156.96 539.42h0M157.19 537.66h0M157.42 539.82h0M157.65 539.69h0M157.88 537.92h0M158.11 539.03h0M158.34 539.36h0M158.57 539.66h0M158.8 538.21h0M159.02 540.21h0M159.25 538.85h0M159.48 536.95h0M159.71 538.99h0M159.94 540.48h0M160.17 541.01h0M160.4 539.37h0M160.63 541.1h0M160.86 541.57h0M161.09 540.57h0M161.31 541.01h0M161.54 538.6h0M161.77 541.5h0M162 537.78h0M162.23 540.69h0M162.46 539.64h0M162.69 538.98h0M162.92 539.56h0M163.15 538.97h0M163.38 541.1h0M163.61 542.71h0M163.83 540.18h0M164.06 542.04h0M164.29 540.71h0M164.52 538.85h0M164.75 540.29h0M164.98 540.8h0M165.21 541.49h0M165.44 540.48h0M165.67 540.36h0M165.9 542.13h0M166.12 539.84h0M166.35 541.55h0M166.58 539.98h0M166.81 540.84h0M167.04 539.08h0M167.27 539.27h0M167.5 540.35h0M167.73 540.52h0M167.96 539.87h0M168.19 538.73h0M168.41 539.14h0M168.64 540.28h0M168.87 540.11h0M169.1 538.57h0M169.33 542.56h0M169.56 539.9h0M169.79 541.7h0M170.02 538.94h0M170.25 541.25h0M170.48 537.89h0M170.71 542.03h0M170.93 540.69h0M171.16 539.75h0M171.39 538.69h0M171.62 542.34h0M171.85 541.35h0M172.08 536h0M172.31 539.69h0M172.54 540.89h0M172.77 540.26h0M173 544.22h0M173.22 538.96h0M173.45 540.79h0M173.68 538.27h0M173.91 539.59h0M174.14 541.84h0M174.37 542.36h0M174.6 540.47h0M174.83 540.65h0M175.06 541.74h0M175.29 541.29h0M175.51 542.89h0M175.74 543.05h0M175.97 540.18h0M176.2 539.69h0M176.43 540.82h0M176.66 540.92h0M176.89 541.9h0M177.12 541.6h0M177.35 542.63h0M177.58 539.33h0M177.81 542.23h0M178.03 541.06h0M178.26 541.6h0M178.49 543.35h0M178.72 539.27h0M178.95 542.15h0M179.18 542.67h0M179.41 541.61h0M179.64 542.89h0M179.87 541.78h0M180.1 543.03h0M180.32 541.18h0M180.55 541.85h0M180.78 543.64h0M181.01 540.7h0M181.24 541.77h0M181.47 543.41h0M181.7 541.63h0M181.93 541.58h0M182.16 535.81h0M182.39 543.24h0M85.8 527.7h0M88.2 527.7h0M94.5 522.3h0M100.8 530.5h0M122.4 527.7h0M138.1 531.6h0M149.3 524.5h0M105.7 518.5h0M176.5 534.6h0" stroke="#2e7d19" stroke-width="4.4" stroke-linecap="round" fill="none"/>
<path d="M56.66 523.05H193.94" stroke="#161616" stroke-width="1.85" stroke-dasharray="5.1 2.1" fill="none"/>
<rect x="50" y="473.7" width="151.7" height="98.7" fill="none" stroke="#000" stroke-width="1.05"/>
<path d="M50 572.4h-3.3" stroke="#000" stroke-width="1.05"/>
<text x="43.2" y="578" font-size="13.6" text-anchor="end">0</text>
<path d="M50 523.05h-3.3" stroke="#000" stroke-width="1.05"/>
<text x="43.2" y="528.65" font-size="13.6" text-anchor="end">5</text>
<path d="M50 473.7h-3.3" stroke="#000" stroke-width="1.05"/>
<text x="43.2" y="479.3" font-size="13.6" text-anchor="end">10</text>
<path d="M68.1 572.4v3.3" stroke="#000" stroke-width="1.05"/>
<text x="68.1" y="589.4" font-size="13.6" text-anchor="middle">0</text>
<path d="M125.3 572.4v3.3" stroke="#000" stroke-width="1.05"/>
<text x="125.3" y="589.4" font-size="13.6" text-anchor="middle">500</text>
<path d="M182.5 572.4v3.3" stroke="#000" stroke-width="1.05"/>
<text x="182.5" y="589.4" font-size="13.6" text-anchor="middle">1000</text>
<text x="124.95" y="605.1" font-size="13.6" text-anchor="middle">node index <tspan font-style="oblique">i</tspan></text>
<text transform="translate(19.4,529.25) rotate(-90)" font-size="13.6"><tspan font-style="oblique">u</tspan><tspan font-size="9.52" font-style="oblique" dx="-0.6" dy="1.84">i</tspan></text>
<text x="53.7" y="486.7" font-size="10.8" font-weight="bold">(d)</text>
<path d="M273.65 523.05H387.54" stroke="#0000ff" stroke-width="4.4" stroke-linecap="round" fill="none"/>
<path d="M261.81 523.05H399.09" stroke="#161616" stroke-width="1.85" stroke-dasharray="5.1 2.1" fill="none"/>
<rect x="255.5" y="473.7" width="150.5" height="98.7" fill="none" stroke="#000" stroke-width="1.05"/>
<path d="M255.5 572.4h-3.3" stroke="#000" stroke-width="1.05"/>
<text x="248.7" y="578" font-size="13.6" text-anchor="end">0</text>
<path d="M255.5 523.05h-3.3" stroke="#000" stroke-width="1.05"/>
<text x="248.7" y="528.65" font-size="13.6" text-anchor="end">5</text>
<path d="M255.5 473.7h-3.3" stroke="#000" stroke-width="1.05"/>
<text x="248.7" y="479.3" font-size="13.6" text-anchor="end">10</text>
<path d="M273.25 572.4v3.3" stroke="#000" stroke-width="1.05"/>
<text x="273.25" y="589.4" font-size="13.6" text-anchor="middle">0</text>
<path d="M330.45 572.4v3.3" stroke="#000" stroke-width="1.05"/>
<text x="330.45" y="589.4" font-size="13.6" text-anchor="middle">500</text>
<path d="M387.65 572.4v3.3" stroke="#000" stroke-width="1.05"/>
<text x="387.65" y="589.4" font-size="13.6" text-anchor="middle">1000</text>
<text x="329.85" y="605.1" font-size="13.6" text-anchor="middle">node index <tspan font-style="oblique">i</tspan></text>
<text transform="translate(224.9,529.25) rotate(-90)" font-size="13.6"><tspan font-style="oblique">u</tspan><tspan font-size="9.52" font-style="oblique" dx="-0.6" dy="1.84">i</tspan></text>
<text x="259.2" y="486.7" font-size="10.8" font-weight="bold">(e)</text>
</svg>
</body></html>
